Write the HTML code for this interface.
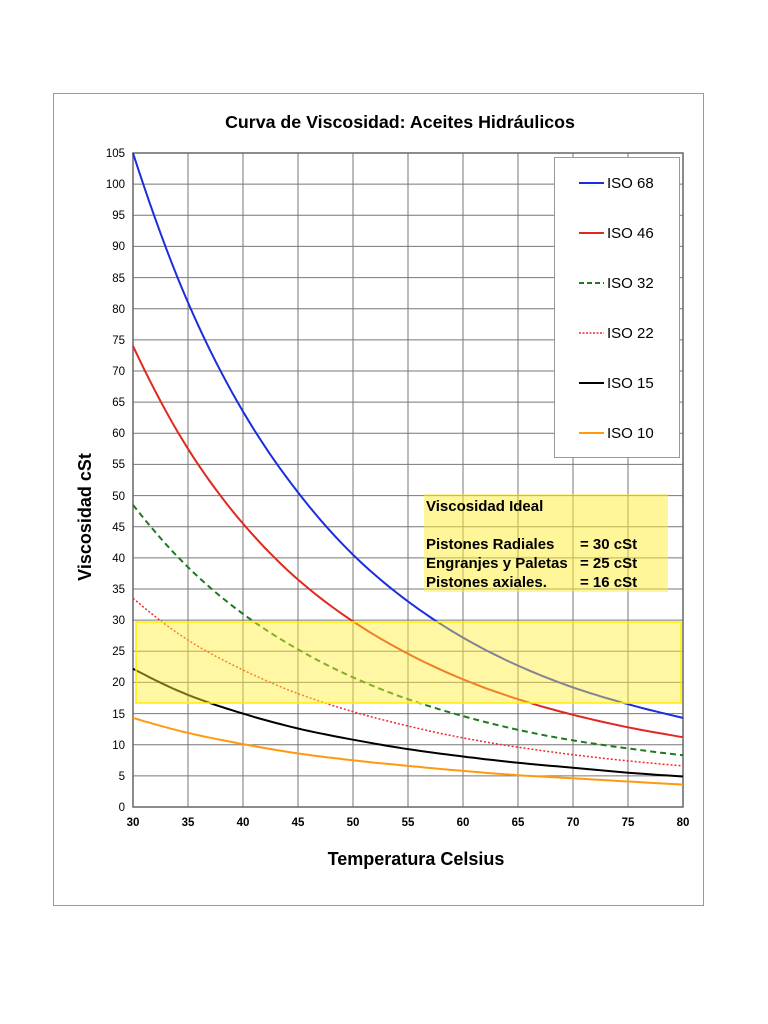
<!DOCTYPE html>
<html><head><meta charset="utf-8"><style>
html,body{margin:0;padding:0;background:#fff;width:768px;height:1024px;overflow:hidden}
</style></head><body>
<svg width="768" height="1024" xmlns="http://www.w3.org/2000/svg" font-family="Liberation Sans, sans-serif">
<rect x="53.5" y="93.5" width="650" height="812" fill="#fff" stroke="#999" stroke-width="1"/>
<text x="400" y="128" text-anchor="middle" font-size="17.8" font-weight="bold">Curva de Viscosidad: Aceites Hidráulicos</text>
<g stroke="#777" stroke-width="1">
<line x1="188" y1="153" x2="188" y2="807"/><line x1="243" y1="153" x2="243" y2="807"/><line x1="298" y1="153" x2="298" y2="807"/><line x1="353" y1="153" x2="353" y2="807"/><line x1="408" y1="153" x2="408" y2="807"/><line x1="463" y1="153" x2="463" y2="807"/><line x1="518" y1="153" x2="518" y2="807"/><line x1="573" y1="153" x2="573" y2="807"/><line x1="628" y1="153" x2="628" y2="807"/>
<line x1="133" y1="184.1" x2="683" y2="184.1"/><line x1="133" y1="215.3" x2="683" y2="215.3"/><line x1="133" y1="246.4" x2="683" y2="246.4"/><line x1="133" y1="277.6" x2="683" y2="277.6"/><line x1="133" y1="308.7" x2="683" y2="308.7"/><line x1="133" y1="339.9" x2="683" y2="339.9"/><line x1="133" y1="371" x2="683" y2="371"/><line x1="133" y1="402.1" x2="683" y2="402.1"/><line x1="133" y1="433.3" x2="683" y2="433.3"/><line x1="133" y1="464.4" x2="683" y2="464.4"/><line x1="133" y1="495.6" x2="683" y2="495.6"/><line x1="133" y1="526.7" x2="683" y2="526.7"/><line x1="133" y1="557.9" x2="683" y2="557.9"/><line x1="133" y1="589" x2="683" y2="589"/><line x1="133" y1="620.1" x2="683" y2="620.1"/><line x1="133" y1="651.3" x2="683" y2="651.3"/><line x1="133" y1="682.4" x2="683" y2="682.4"/><line x1="133" y1="713.6" x2="683" y2="713.6"/><line x1="133" y1="744.7" x2="683" y2="744.7"/><line x1="133" y1="775.9" x2="683" y2="775.9"/>
</g>
<rect x="133" y="153" width="550" height="654" fill="none" stroke="#666" stroke-width="1.5"/>
<g fill="none" stroke-width="2">
<polyline class="c" stroke="#1a2ee0" points="133,153.1 188,302.5 243,411.5 298,492.4 353,554.7 408,601.4 463,637.6 518,665.6 573,687.4 628,704.2 683,717.9"/>
<polyline class="c" stroke="#e0281e" points="133,346.1 188,448.8 243,523.6 298,579.6 353,621.4 408,653.8 463,679.3 518,699.2 573,714.8 628,727.3 683,737.2"/>
<polyline class="c" stroke="#1e7a1e" stroke-dasharray="6,4" points="133,504.9 188,567.2 243,613.9 298,649.4 353,677.4 408,699.2 463,716.1 518,729.8 573,740.4 628,748.4 683,755.3"/>
<polyline class="c" stroke="#f02828" stroke-width="1.5" stroke-dasharray="2,2" points="133,598.3 188,640.1 243,670 298,693.6 353,711.7 408,726 463,737.9 518,747.2 573,754.7 628,760.9 683,765.9"/>
<polyline class="c" stroke="#000" points="133,668.7 188,694.9 243,713.6 298,728.5 353,739.7 408,749.1 463,756.5 518,762.8 573,767.8 628,772.7 683,776.5"/>
<polyline class="c" stroke="#ff9a10" points="133,717.9 188,732.9 243,744.1 298,753.4 353,760.3 408,765.9 463,770.9 518,775.2 573,778.3 628,781.5 683,784.6"/>
</g>
<rect x="136" y="622" width="545" height="81" fill="#ffee33" fill-opacity="0.45" stroke="#ffee00" stroke-width="1.5"/>
<rect x="424" y="494" width="244" height="98" fill="#ffee33" fill-opacity="0.5"/>
<g font-size="15" font-weight="bold">
<text x="426" y="511">Viscosidad Ideal</text>
<text x="426" y="549">Pistones Radiales</text><text x="580" y="549">= 30 cSt</text>
<text x="426" y="568">Engranjes y Paletas</text><text x="580" y="568">= 25 cSt</text>
<text x="426" y="587">Pistones axiales.</text><text x="580" y="587">= 16 cSt</text>
</g>
<rect x="554.5" y="157.5" width="125" height="300" fill="#fff" stroke="#999"/>
<g font-size="15">
<line x1="579" y1="183" x2="604" y2="183" stroke="#1a2ee0" stroke-width="2"/><text x="607" y="188">ISO 68</text>
<line x1="579" y1="233" x2="604" y2="233" stroke="#e0281e" stroke-width="2"/><text x="607" y="238">ISO 46</text>
<line x1="579" y1="283" x2="604" y2="283" stroke="#1e7a1e" stroke-width="2" stroke-dasharray="5,3"/><text x="607" y="288">ISO 32</text>
<line x1="579" y1="333" x2="604" y2="333" stroke="#f02828" stroke-width="1.5" stroke-dasharray="2,1.5"/><text x="607" y="338">ISO 22</text>
<line x1="579" y1="383" x2="604" y2="383" stroke="#000" stroke-width="2"/><text x="607" y="388">ISO 15</text>
<line x1="579" y1="433" x2="604" y2="433" stroke="#ff9a10" stroke-width="2"/><text x="607" y="438">ISO 10</text>
</g>
<g font-size="11.5" text-anchor="end">
<text x="125" y="157">105</text><text x="125" y="188">100</text><text x="125" y="219">95</text><text x="125" y="250">90</text><text x="125" y="282">85</text><text x="125" y="313">80</text><text x="125" y="344">75</text><text x="125" y="375">70</text><text x="125" y="406">65</text><text x="125" y="437">60</text><text x="125" y="468">55</text><text x="125" y="500">50</text><text x="125" y="531">45</text><text x="125" y="562">40</text><text x="125" y="593">35</text><text x="125" y="624">30</text><text x="125" y="655">25</text><text x="125" y="686">20</text><text x="125" y="718">15</text><text x="125" y="749">10</text><text x="125" y="780">5</text><text x="125" y="811">0</text>
</g>
<g font-size="11.5" font-weight="bold" text-anchor="middle">
<text x="133" y="826">30</text><text x="188" y="826">35</text><text x="243" y="826">40</text><text x="298" y="826">45</text><text x="353" y="826">50</text><text x="408" y="826">55</text><text x="463" y="826">60</text><text x="518" y="826">65</text><text x="573" y="826">70</text><text x="628" y="826">75</text><text x="683" y="826">80</text>
</g>
<text x="416" y="865" text-anchor="middle" font-size="18" font-weight="bold">Temperatura Celsius</text>
<text transform="translate(91,517) rotate(-90)" text-anchor="middle" font-size="18" font-weight="bold">Viscosidad cSt</text>
</svg>
<script>
(function(){
var ps=document.querySelectorAll('polyline.c');
for(var k=0;k<ps.length;k++){
 var pts=ps[k].getAttribute('points').trim().split(/\s+/).map(function(s){var a=s.split(',');return [+a[0],+a[1]];});
 var n=pts.length, v=pts.map(function(p){return Math.log((807-p[1])/6.229);});
 var m=[];for(var i=0;i<n;i++){if(i==0)m.push(v[1]-v[0]);else if(i==n-1)m.push(v[n-1]-v[n-2]);else m.push((v[i+1]-v[i-1])/2);}
 var out=[];
 for(var i=0;i<n-1;i++){for(var t=0;t<1;t+=0.1){
  var h00=2*t*t*t-3*t*t+1,h10=t*t*t-2*t*t+t,h01=-2*t*t*t+3*t*t,h11=t*t*t-t*t;
  var lv=h00*v[i]+h10*m[i]+h01*v[i+1]+h11*m[i+1];
  var x=pts[i][0]+55*t, y=807-6.229*Math.exp(lv);
  out.push(x.toFixed(1)+','+y.toFixed(1));}}
 out.push(pts[n-1][0]+','+pts[n-1][1]);
 ps[k].setAttribute('points',out.join(' '));
}
})();
</script>
</body></html>
